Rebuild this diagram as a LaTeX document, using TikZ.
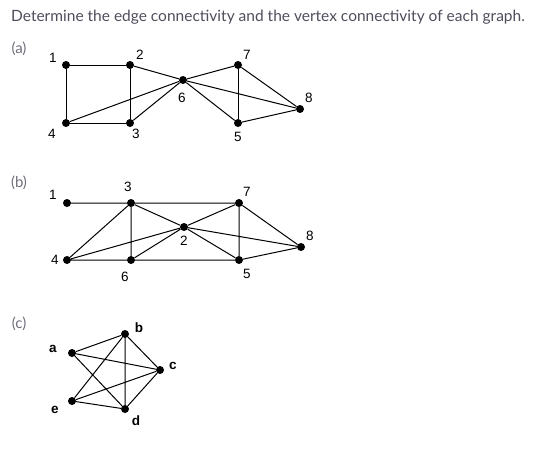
\documentclass[tikz,border=0pt]{standalone}
\usepackage{fontspec}
\setmainfont{Lato}
\setsansfont{Liberation Sans}
\usetikzlibrary{positioning}
\definecolor{titlegray}{RGB}{78,78,92}
\definecolor{partgray}{RGB}{110,110,122}
\tikzset{
    vertex/.style={circle, fill=black, inner sep=0pt, minimum size=8pt},
    vlabel/.style={font=\sffamily\fontsize{13.5}{13.5}\selectfont, inner sep=0pt},
    letterlabel/.style={font=\sffamily\bfseries\fontsize{13.5}{13.5}\selectfont, inner sep=0pt},
    part/.style={font=\fontsize{15}{15}\selectfont, text=partgray, inner sep=0pt},
    edge/.style={line width=1pt}
}
\begin{document}
\begin{tikzpicture}[x=1pt, y=-1pt]
    \useasboundingbox (0,0) rectangle (557,448);

    \node (title) [anchor=west, inner sep=0pt, text=titlegray, font=\fontsize{15.5}{15.5}\selectfont] at (11,17)
        {Determine the edge connectivity and the vertex connectivity of each graph.};

    % (a)
    \node (parta) [part] at (19,49) {(a)};
    \node (a1) [vertex] at (66,65) {};
    \node (a2) [vertex] at (130,65) {};
    \node (a3) [vertex] at (130,123) {};
    \node (a4) [vertex] at (66,123) {};
    \node (a6) [vertex] at (183,80) {};
    \node (a7) [vertex] at (238,65) {};
    \node (a5) [vertex] at (238,123) {};
    \node (a8) [vertex] at (300,109) {};

    \node (a1_label) [vlabel] at (53,58) {1};
    \node (a2_label) [vlabel] at (140,55) {2};
    \node (a7_label) [vlabel] at (247,55) {7};
    \node (a6_label) [vlabel] at (182,98) {6};
    \node (a8_label) [vlabel] at (309,98) {8};
    \node (a4_label) [vlabel] at (52,134) {4};
    \node (a3_label) [vlabel] at (136,134) {3};
    \node (a5_label) [vlabel] at (238,137) {5};

    \draw [edge] (a1) -- (a2) -- (a3) -- (a4) -- (a1);
    \draw [edge] (a4) -- (a6) -- (a2);
    \draw [edge] (a3) -- (a6) -- (a7) -- (a8) -- (a5) -- (a6) -- (a8);
    \draw [edge] (a7) -- (a5);

    % (b)
    \node (partb) [part] at (19,183) {(b)};
    \node (b1) [vertex] at (67,203) {};
    \node (b3) [vertex] at (131,203) {};
    \node (b7) [vertex] at (239,203) {};
    \node (b2) [vertex] at (184,227) {};
    \node (b8) [vertex] at (301,247) {};
    \node (b4) [vertex] at (67,260) {};
    \node (b6) [vertex] at (131,260) {};
    \node (b5) [vertex] at (239,260) {};

    \node (b1_label) [vlabel] at (53,195) {1};
    \node (b3_label) [vlabel] at (128,187) {3};
    \node (b7_label) [vlabel] at (247,192) {7};
    \node (b2_label) [vlabel] at (184,241) {2};
    \node (b8_label) [vlabel] at (310,236) {8};
    \node (b4_label) [vlabel] at (55,260) {4};
    \node (b6_label) [vlabel] at (125,277) {6};
    \node (b5_label) [vlabel] at (247,274) {5};

    \draw [edge] (b1) -- (b3) -- (b7) -- (b8) -- (b5) -- (b6) -- (b4) -- (b3) -- (b6) -- (b2) -- (b4);
    \draw [edge] (b3) -- (b2) -- (b7) -- (b5) -- (b2) -- (b8);

    % (c)
    \node (partc) [part] at (19,324) {(c)};
    \node (ca) [vertex] at (72,353) {};
    \node (cb) [vertex] at (125,334) {};
    \node (cc) [vertex] at (160,370) {};
    \node (ce) [vertex] at (72,401) {};
    \node (cd) [vertex] at (125,409) {};

    \node (ca_label) [letterlabel] at (53,349) {a};
    \node (cb_label) [letterlabel] at (139,328) {b};
    \node (cc_label) [letterlabel] at (173,366) {c};
    \node (ce_label) [letterlabel] at (55,410) {e};
    \node (cd_label) [letterlabel] at (136,421) {d};

    \draw [edge] (ca) -- (cb) -- (cc) -- (cd) -- (ce) -- (cb) -- (cd) -- (ca) -- (cc) -- (ce);
\end{tikzpicture}
\end{document}
